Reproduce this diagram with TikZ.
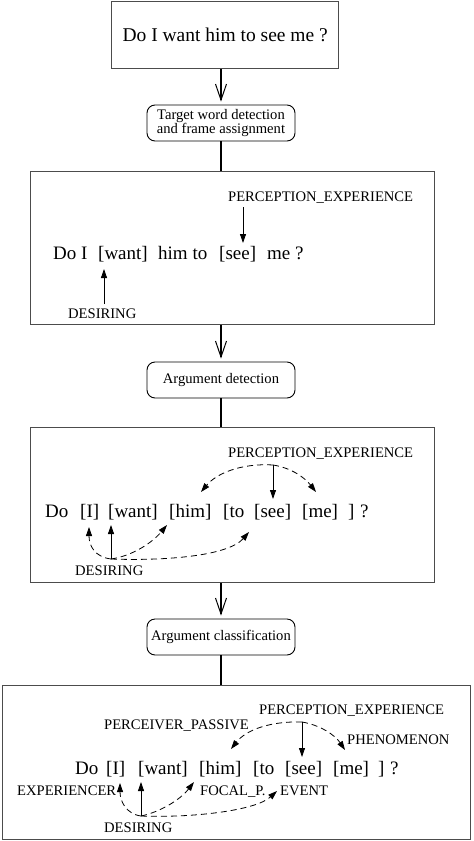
\documentclass[tikz,border=0pt]{standalone}
\usepackage{fontspec}
\setmainfont{Liberation Serif}
\usetikzlibrary{arrows.meta,calc}
\begin{document}
\begin{tikzpicture}[x=1pt,y=-1pt,
  bigbox/.style={draw=black!70, line width=1.4pt, inner sep=0pt, anchor=north west},
  stepbox/.style={draw, rounded corners=8pt, line width=0.9pt, minimum width=148pt, minimum height=36pt, inner sep=1pt, align=center, font=\fontsize{14.6}{14.5}\selectfont},
  flow/.style={line width=2.8pt},
  flowarrow/.style={flow, shorten >=3pt, -{Straight Barb[length=16pt,width=11pt,line width=1pt]}},
  word/.style={anchor=base west, inner sep=0pt, font=\fontsize{19}{19}\selectfont},
  lab/.style={anchor=base west, inner sep=0pt, font=\fontsize{14.6}{15}\selectfont},
  sarrow/.style={line width=0.8pt, -{Triangle[length=9pt,width=6pt]}},
  darrow/.style={sarrow, dash pattern=on 6pt off 4pt},
]
\useasboundingbox (0,0) rectangle (474,841);

% ---------- boxes ----------
\node[bigbox, minimum width=227pt, minimum height=67pt, font=\fontsize{19.5}{20}\selectfont] (box1) at (111,1) {Do I want him to see me ?};
\node[stepbox] (rb1) at (221,123) {Target word detection\\and frame assignment};
\node[bigbox, minimum width=404pt, minimum height=153pt] (box2) at (30,171) {};
\node[stepbox] (rb2) at (221,380) {Argument detection};
\node[bigbox, minimum width=404pt, minimum height=155pt] (box3) at (30,427) {};
\node[stepbox] (rb3) at (221,637) {Argument classification};
\node[bigbox, minimum width=468pt, minimum height=154pt] (box4) at (2,685) {};

% ---------- flow ----------
\draw[flowarrow] (rb1.north |- box1.south) -- (rb1.north);
\draw[flow] (rb1.south) -- (rb1.south |- box2.north);
\draw[flowarrow] (rb2.north |- box2.south) -- (rb2.north);
\draw[flow] (rb2.south) -- (rb2.south |- box3.north);
\draw[flowarrow] (rb3.north |- box3.south) -- (rb3.north);
\draw[flow] (rb3.south) -- (rb3.south |- box4.north);

% ---------- box 2 ----------
\node[word] (b2w1) at (53,259) {Do I};
\node[word] (b2w2) at (98,259) {[want]};
\node[word] (b2w3) at (158,259) {him to};
\node[word] (b2w4) at (219,259) {[see]};
\node[word] (b2w5) at (267,259) {me ?};
\node[lab] (b2pe) at (228,201) {PERCEPTION\_EXPERIENCE};
\node[lab] (b2de) at (68,318) {DESIRING};
\coordinate (b2po) at (243,207);
\coordinate (b2pt) at (243,243);
\coordinate (b2do) at (104,304);
\coordinate (b2dt) at (104,269);
\draw[sarrow] (b2po) -- (b2pt);
\draw[sarrow] (b2do) -- (b2dt);

% ---------- box 3 ----------
\node[word] (b3w1) at (45,517) {Do};
\node[word] (b3w2) at (80,517) {[I]};
\node[word] (b3w3) at (108,517) {[want]};
\node[word] (b3w4) at (169,517) {[him]};
\node[word] (b3w5) at (223,517) {[to};
\node[word] (b3w6) at (254,517) {[see]};
\node[word] (b3w7) at (302,517) {[me]};
\node[word] (b3w8) at (348,517) {]};
\node[word] (b3w9) at (360,517) {?};
\node[lab] (b3pe) at (228,457) {PERCEPTION\_EXPERIENCE};
\node[lab] (b3de) at (75,575) {DESIRING};
\coordinate (b3po) at (273,465);
\coordinate (b3p1) at (273,499);
\coordinate (b3p2) at (201,492);
\coordinate (b3p3) at (316,492);
\coordinate (b3do) at (111,559);
\coordinate (b3d1) at (111,525);
\coordinate (b3d2) at (89,527);
\coordinate (b3d3) at (167,525);
\coordinate (b3d4) at (249,532);
\draw[sarrow] (b3po) -- (b3p1);
\draw[darrow] (b3po) .. controls (240,463) and (216,474) .. (b3p2);
\draw[darrow] (b3po) .. controls (292,468) and (305,478) .. (b3p3);
\draw[sarrow] (b3do) -- (b3d1);
\draw[darrow] (b3do) .. controls (95,557) and (89,546) .. (b3d2);
\draw[darrow] (b3do) .. controls (132,556) and (152,543) .. (b3d3);
\draw[darrow] (b3do) .. controls (165,561) and (228,556) .. (b3d4);

% ---------- box 4 ----------
\node[word] (b4w1) at (75,774) {Do};
\node[word] (b4w2) at (106,774) {[I]};
\node[word] (b4w3) at (138,774) {[want]};
\node[word] (b4w4) at (199,774) {[him]};
\node[word] (b4w5) at (253,774) {[to};
\node[word] (b4w6) at (285,774) {[see]};
\node[word] (b4w7) at (333,774) {[me]};
\node[word] (b4w8) at (378,774) {]};
\node[word] (b4w9) at (390,774) {?};
\node[lab] (b4pe) at (259,714) {PERCEPTION\_EXPERIENCE};
\node[lab] (b4pp) at (104,729) {PERCEIVER\_PASSIVE};
\node[lab] (b4ph) at (347,744) {PHENOMENON};
\node[lab] (b4ex) at (17,795) {EXPERIENCER};
\node[lab] (b4fp) at (200,795) {FOCAL\_P.};
\node[lab] (b4ev) at (280,795) {EVENT};
\node[lab] (b4de) at (104,832) {DESIRING};
\coordinate (b4po) at (302,722);
\coordinate (b4p1) at (302,757);
\coordinate (b4p2) at (231,749);
\coordinate (b4p3) at (345,750);
\coordinate (b4do) at (141,816);
\coordinate (b4d1) at (141,782);
\coordinate (b4d2) at (120,783);
\coordinate (b4d3) at (194,782);
\coordinate (b4d4) at (277,791);
\draw[sarrow] (b4po) -- (b4p1);
\draw[darrow] (b4po) .. controls (270,721) and (246,730) .. (b4p2);
\draw[darrow] (b4po) .. controls (320,725) and (335,735) .. (b4p3);
\draw[sarrow] (b4do) -- (b4d1);
\draw[darrow] (b4do) .. controls (126,814) and (120,801) .. (b4d2);
\draw[darrow] (b4do) .. controls (160,812) and (180,800) .. (b4d3);
\draw[darrow] (b4do) .. controls (190,818) and (255,811) .. (b4d4);
\end{tikzpicture}
\end{document}
